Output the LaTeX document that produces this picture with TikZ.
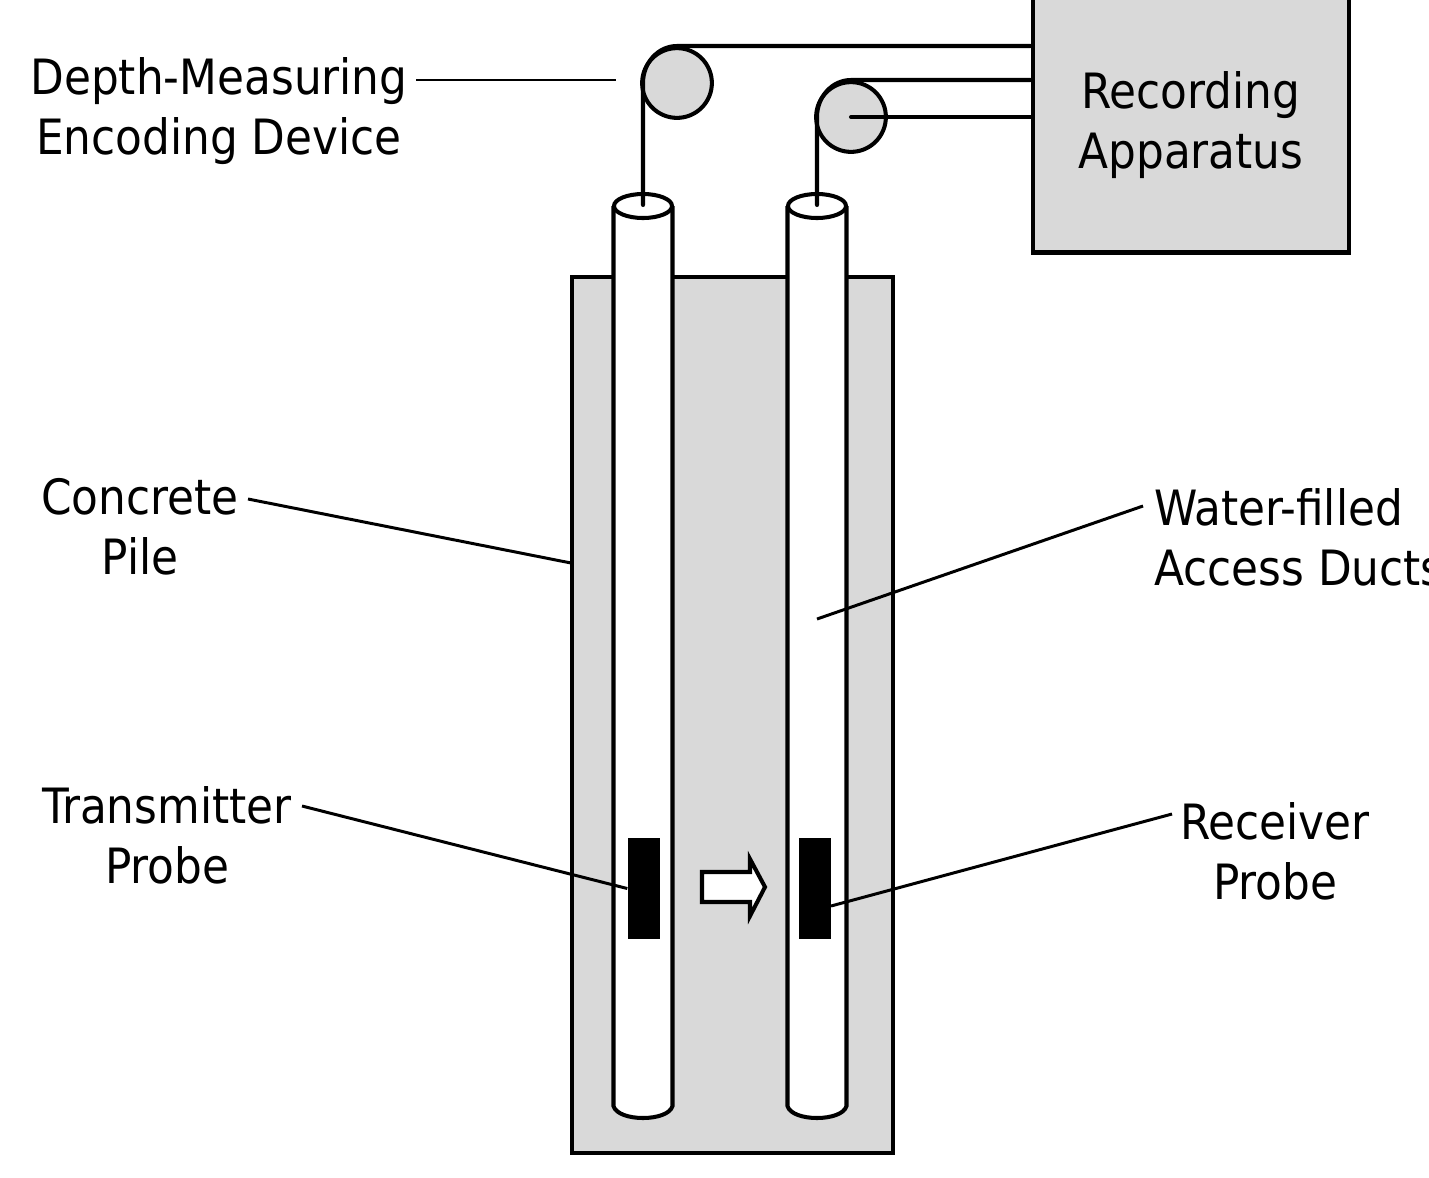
\documentclass[tikz,border=0pt]{standalone}
\usepackage{fontspec}
\setmainfont{DejaVu Sans Condensed}
\definecolor{pilegray}{HTML}{D9D9D9}
\tikzset{
    wire/.style={line width=2.3pt,line cap=round},
    leader/.style={line width=1.7pt},
    outline/.style={draw=black,line width=2.3pt},
    pulley/.style={outline,circle,fill=pilegray,minimum size=39.7pt,inner sep=0pt},
    probe/.style={rectangle,fill=black,minimum width=18.6pt,minimum height=57.2pt,inner sep=0pt},
    callout/.style={align=center,inner sep=0pt,font=\fontsize{27.7}{34}\selectfont},
}
\begin{document}
\begin{tikzpicture}[x=0.02cm,y=-0.02cm]
    \useasboundingbox (0,0) rectangle (1429,1177);
    \clip (0,0) rectangle (1429,1177);
    % pile and recorder
    \node[outline,fill=pilegray,rectangle,minimum width=183pt,minimum height=499pt,inner sep=0pt] (pile) at (732.5,715) {};
    \node[outline,fill=pilegray,rectangle,minimum width=180.3pt,minimum height=147.4pt,inner sep=0pt] (recorder) at (1191,123) {};
    \node[callout] (recordertext) at (1191,125) {Recording\\Apparatus};
    % access ducts
    \foreach \x in {643,817}{
        \filldraw[outline,fill=white] (\x-29.5,206)--(\x-29.5,1106)
            .. controls (\x-25,1122) and (\x+25,1122) .. (\x+29.5,1106)--(\x+29.5,206);
        \filldraw[outline,fill=white] (\x,206) ellipse (29 and 12);
    }
    \node[pulley] (pulleyA) at (677,83) {};
    \node[pulley] (pulleyB) at (851,117) {};
    \node[probe] (probeA) at (644,888.5) {};
    \node[probe] (probeB) at (815,888.5) {};
    % cables
    \draw[wire] (643,205)--(643,83) arc (180:270:34 and 37)--(recorder.west |- 0,46);
    \draw[wire] (817,205)--(817,117) arc (180:270:34 and 37)--(recorder.west |- 0,80);
    \draw[wire] (pulleyB.center)--(recorder.west |- pulleyB.center);
    % direction arrow
    \filldraw[outline,fill=white,miter limit=10] (702,872)--(750,872)--(750,859)--(765,887)--(750,916)--(750,902)--(702,902)--cycle;
    % labels
    \node[callout] (depth) at (219,111) {Depth-Measuring\\Encoding Device};
    \node[callout] (concrete) at (140,527) {Concrete\\Pile};
    \node[callout,align=left,anchor=west] (ducts) at (1154,537) {Water-filled\\Access Ducts};
    \node[callout] (transmitter) at (167,835) {Transmitter\\Probe};
    \node[callout] (receiver) at (1275,851) {Receiver\\Probe};
    % leaders
    \coordinate (depthstart) at (416,80);
    \coordinate (depthend) at (616,80);
    \coordinate (concretestart) at (248,499);
    \coordinate (concreteend) at (571,563);
    \coordinate (ductsstart) at (1143,506);
    \coordinate (ductsend) at (817,619);
    \coordinate (transmitterstart) at (302,806);
    \coordinate (receiverstart) at (1172,814);
    \coordinate (receiverend) at (831,906);
    \draw[leader] (depthstart)--(depthend);
    \draw[leader] (concretestart)--(concreteend);
    \draw[leader] (ductsstart)--(ductsend);
    \draw[leader] (transmitterstart)--(probeA.west);
    \draw[leader] (receiverstart)--(receiverend);
\end{tikzpicture}
\end{document}
